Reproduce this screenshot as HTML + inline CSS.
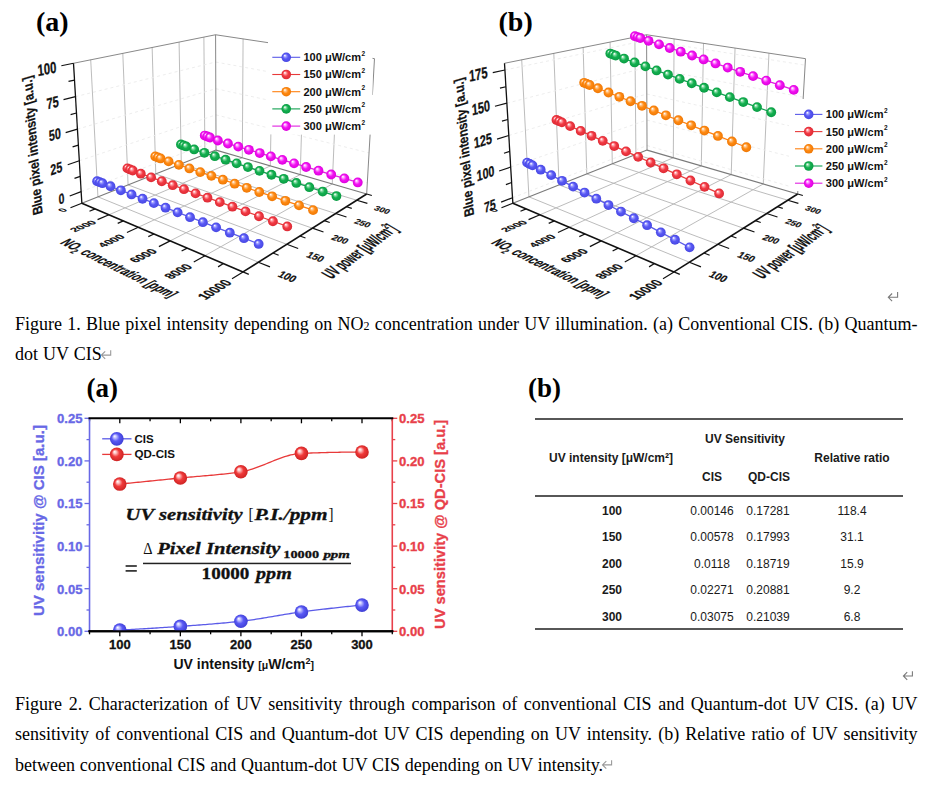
<!DOCTYPE html>
<html><head><meta charset="utf-8">
<style>
html,body{margin:0;padding:0;background:#fff;}
body{width:926px;height:786px;position:relative;overflow:hidden;font-family:"Liberation Sans",sans-serif;}
.ab{position:absolute;}
.cap{position:absolute;left:15px;width:902.5px;font-family:"Liberation Serif",serif;font-size:18px;color:#000;white-space:nowrap;line-height:20px;}
.just{text-align:justify;text-align-last:justify;white-space:normal;}
.lbl{position:absolute;font-family:"Liberation Serif",serif;font-weight:bold;font-size:27px;color:#000;line-height:30px;}
.ret{color:#a0a0a0;font-family:"Liberation Sans",sans-serif;font-size:13px;}
.tc{position:absolute;width:200px;text-align:center;font-family:"Liberation Sans",sans-serif;font-size:12px;line-height:14px;color:#1a1a1a;white-space:nowrap;}
.tb{font-weight:bold;letter-spacing:0px;}
.hl{position:absolute;left:535px;width:368px;height:2px;background:#575757;}
</style></head><body>
<div class="lbl" style="left:36px;top:6.5px;font-size:28px;">(a)</div>
<div class="lbl" style="left:498.5px;top:6.5px;font-size:28px;">(b)</div>

<div class="cap just" style="top:314px;">Figure 1. Blue pixel intensity depending on NO<span style="font-size:12px">2</span> concentration under UV illumination. (a) Conventional CIS. (b) Quantum-</div>
<div class="cap" style="top:344px;word-spacing:0.5px;">dot UV CIS</div>

<div class="lbl" style="left:86.5px;top:373px;font-size:27px;">(a)</div>
<div class="lbl" style="left:528px;top:373px;font-size:27px;">(b)</div>

<!-- table -->
<div class="hl" style="top:418px;"></div>
<div class="hl" style="top:495px;"></div>
<div class="hl" style="top:628px;"></div>
<div class="tc tb" style="left:511px;top:451px;">UV intensity [μW/cm²]</div>
<div class="tc tb" style="left:645px;top:432px;">UV Sensitivity</div>
<div class="tc tb" style="left:752px;top:451px;">Relative ratio</div>
<div class="tc tb" style="left:612px;top:470px;">CIS</div>
<div class="tc tb" style="left:669px;top:470px;">QD-CIS</div>

<div class="tc tb" style="left:512px;top:504px;">100</div>
<div class="tc tb" style="left:512px;top:530px;">150</div>
<div class="tc tb" style="left:512px;top:557px;">200</div>
<div class="tc tb" style="left:512px;top:583px;">250</div>
<div class="tc tb" style="left:512px;top:610px;">300</div>

<div class="tc" style="left:612px;top:504px;">0.00146</div>
<div class="tc" style="left:612px;top:530px;">0.00578</div>
<div class="tc" style="left:612px;top:557px;">0.0118</div>
<div class="tc" style="left:612px;top:583px;">0.02271</div>
<div class="tc" style="left:612px;top:610px;">0.03075</div>

<div class="tc" style="left:668px;top:504px;">0.17281</div>
<div class="tc" style="left:668px;top:530px;">0.17993</div>
<div class="tc" style="left:668px;top:557px;">0.18719</div>
<div class="tc" style="left:668px;top:583px;">0.20881</div>
<div class="tc" style="left:668px;top:610px;">0.21039</div>

<div class="tc" style="left:752px;top:504px;">118.4</div>
<div class="tc" style="left:752px;top:530px;">31.1</div>
<div class="tc" style="left:752px;top:557px;">15.9</div>
<div class="tc" style="left:752px;top:583px;">9.2</div>
<div class="tc" style="left:752px;top:610px;">6.8</div>

<div class="cap just" style="top:693.5px;">Figure 2. Characterization of UV sensitivity through comparison of conventional CIS and Quantum-dot UV CIS. (a) UV</div>
<div class="cap just" style="top:723.5px;">sensitivity of conventional CIS and Quantum-dot UV CIS depending on UV intensity. (b) Relative ratio of UV sensitivity</div>
<div class="cap" style="top:754.5px;word-spacing:0.25px;">between conventional CIS and Quantum-dot UV CIS depending on UV intensity.</div>
<svg class="ab" style="left:0;top:0" width="926" height="786"><path d="M897.6,291.9 V297.3 H888.8 M892.0999999999999,293.5 L888.3,297.3 L892.0999999999999,301.1" fill="none" stroke="#7a7a7a" stroke-width="1.1"/><path d="M110.7,350.2 V355.1 H101.9 M105.2,351.3 L101.4,355.1 L105.2,358.90000000000003" fill="none" stroke="#9a9a9a" stroke-width="1.1"/><path d="M912.4,671.2 V676 H903.9 M907.1999999999999,672.2 L903.4,676 L907.1999999999999,679.8" fill="none" stroke="#7a7a7a" stroke-width="1.1"/><path d="M611.6,760.2 V764.9 H603.0 M606.3,761.1 L602.5,764.9 L606.3,768.6999999999999" fill="none" stroke="#9a9a9a" stroke-width="1.1"/></svg>
<svg class="ab" style="left:0;top:0" width="0" height="0"><defs>
<radialGradient id="gb2" cx="0.5" cy="0.5" r="0.5" fx="0.34" fy="0.3"><stop offset="0" stop-color="#ffffff"/><stop offset="0.06" stop-color="#f4f4ff"/><stop offset="0.26" stop-color="#9a9aff"/><stop offset="0.55" stop-color="#5858f4"/><stop offset="1" stop-color="#4848e2"/></radialGradient>
<radialGradient id="gr2" cx="0.5" cy="0.5" r="0.5" fx="0.34" fy="0.3"><stop offset="0" stop-color="#ffffff"/><stop offset="0.06" stop-color="#fff4f4"/><stop offset="0.26" stop-color="#ff9aa0"/><stop offset="0.55" stop-color="#f23a44"/><stop offset="1" stop-color="#dc2a34"/></radialGradient>
<radialGradient id="go" cx="0.5" cy="0.5" r="0.5" fx="0.34" fy="0.3"><stop offset="0" stop-color="#ffffff"/><stop offset="0.06" stop-color="#fff8f0"/><stop offset="0.26" stop-color="#ffc080"/><stop offset="0.55" stop-color="#ff8a12"/><stop offset="1" stop-color="#ee7806"/></radialGradient>
<radialGradient id="gg" cx="0.5" cy="0.5" r="0.5" fx="0.34" fy="0.3"><stop offset="0" stop-color="#ffffff"/><stop offset="0.06" stop-color="#f0fff4"/><stop offset="0.26" stop-color="#80d8a0"/><stop offset="0.55" stop-color="#14b050"/><stop offset="1" stop-color="#0a9c44"/></radialGradient>
<radialGradient id="gm" cx="0.5" cy="0.5" r="0.5" fx="0.34" fy="0.3"><stop offset="0" stop-color="#ffffff"/><stop offset="0.06" stop-color="#fff0ff"/><stop offset="0.26" stop-color="#ff90ff"/><stop offset="0.55" stop-color="#f214f2"/><stop offset="1" stop-color="#dc00dc"/></radialGradient>
</defs></svg>

<svg class="ab" style="left:0;top:0" width="926" height="786" viewBox="0 0 926 786">
<line x1="97.93" y1="196.83" x2="258.39" y2="262.20" stroke="#b4b4b4" stroke-width="0.9" />
<line x1="128.08" y1="184.91" x2="286.80" y2="244.30" stroke="#b4b4b4" stroke-width="0.9" />
<line x1="155.77" y1="173.95" x2="312.42" y2="228.17" stroke="#b4b4b4" stroke-width="0.9" />
<line x1="181.29" y1="163.85" x2="335.64" y2="213.54" stroke="#b4b4b4" stroke-width="0.9" />
<line x1="204.90" y1="154.51" x2="356.79" y2="200.22" stroke="#b4b4b4" stroke-width="0.9" />
<line x1="108.95" y1="214.76" x2="242.30" y2="157.75" stroke="#b4b4b4" stroke-width="0.9" />
<line x1="138.31" y1="227.28" x2="270.30" y2="165.91" stroke="#b4b4b4" stroke-width="0.9" />
<line x1="170.20" y1="240.87" x2="300.22" y2="174.63" stroke="#b4b4b4" stroke-width="0.9" />
<line x1="204.96" y1="255.68" x2="332.26" y2="183.97" stroke="#b4b4b4" stroke-width="0.9" />
<line x1="97.93" y1="196.83" x2="90.71" y2="59.82" stroke="#b4b4b4" stroke-width="0.9" />
<line x1="128.08" y1="184.91" x2="122.80" y2="53.38" stroke="#b4b4b4" stroke-width="0.9" />
<line x1="155.77" y1="173.95" x2="152.15" y2="47.48" stroke="#b4b4b4" stroke-width="0.9" />
<line x1="181.29" y1="163.85" x2="179.08" y2="42.08" stroke="#b4b4b4" stroke-width="0.9" />
<line x1="204.90" y1="154.51" x2="203.89" y2="37.09" stroke="#b4b4b4" stroke-width="0.9" />
<line x1="242.30" y1="157.75" x2="243.09" y2="38.89" stroke="#b4b4b4" stroke-width="0.9" />
<line x1="270.30" y1="165.91" x2="272.51" y2="43.31" stroke="#b4b4b4" stroke-width="0.9" />
<line x1="300.22" y1="174.63" x2="304.05" y2="48.06" stroke="#b4b4b4" stroke-width="0.9" />
<line x1="332.26" y1="183.97" x2="337.95" y2="53.17" stroke="#b4b4b4" stroke-width="0.9" />
<line x1="81.15" y1="191.67" x2="216.01" y2="140.50" stroke="#ebebeb" stroke-width="0.9" stroke-dasharray="3,3"/>
<line x1="216.01" y1="140.50" x2="367.31" y2="182.83" stroke="#ebebeb" stroke-width="0.9" stroke-dasharray="3,3"/>
<line x1="79.31" y1="160.79" x2="215.90" y2="114.88" stroke="#ebebeb" stroke-width="0.9" stroke-dasharray="3,3"/>
<line x1="215.90" y1="114.88" x2="369.04" y2="152.92" stroke="#ebebeb" stroke-width="0.9" stroke-dasharray="3,3"/>
<line x1="77.43" y1="129.12" x2="215.80" y2="88.73" stroke="#ebebeb" stroke-width="0.9" stroke-dasharray="3,3"/>
<line x1="215.80" y1="88.73" x2="370.81" y2="122.28" stroke="#ebebeb" stroke-width="0.9" stroke-dasharray="3,3"/>
<line x1="75.50" y1="96.63" x2="215.69" y2="62.02" stroke="#ebebeb" stroke-width="0.9" stroke-dasharray="3,3"/>
<line x1="215.69" y1="62.02" x2="372.63" y2="90.87" stroke="#ebebeb" stroke-width="0.9" stroke-dasharray="3,3"/>
<line x1="216.04" y1="150.10" x2="215.58" y2="34.75" stroke="#7a7a7a" stroke-width="0.9" />
<line x1="366.66" y1="194.00" x2="374.49" y2="58.67" stroke="#7a7a7a" stroke-width="0.9" />
<line x1="73.51" y1="63.27" x2="215.58" y2="34.75" stroke="#7a7a7a" stroke-width="0.9" />
<line x1="215.58" y1="34.75" x2="374.49" y2="58.67" stroke="#7a7a7a" stroke-width="0.9" />
<line x1="81.84" y1="203.20" x2="216.04" y2="150.10" stroke="#7a7a7a" stroke-width="1.1" />
<line x1="216.04" y1="150.10" x2="366.66" y2="194.00" stroke="#7a7a7a" stroke-width="1.1" />
<line x1="81.84" y1="203.20" x2="73.51" y2="63.27" stroke="#111" stroke-width="1.3" />
<line x1="81.84" y1="203.20" x2="242.99" y2="271.90" stroke="#111" stroke-width="1.6" />
<line x1="242.99" y1="271.90" x2="366.66" y2="194.00" stroke="#111" stroke-width="1.6" />
<line x1="81.15" y1="191.67" x2="69.72" y2="196.01" stroke="#111" stroke-width="1.2" />
<line x1="80.24" y1="176.33" x2="74.52" y2="178.37" stroke="#111" stroke-width="1.2" />
<line x1="79.31" y1="160.79" x2="67.70" y2="164.70" stroke="#111" stroke-width="1.2" />
<line x1="78.38" y1="145.06" x2="72.57" y2="146.88" stroke="#111" stroke-width="1.2" />
<line x1="77.43" y1="129.12" x2="65.64" y2="132.56" stroke="#111" stroke-width="1.2" />
<line x1="76.47" y1="112.98" x2="70.57" y2="114.57" stroke="#111" stroke-width="1.2" />
<line x1="75.50" y1="96.63" x2="63.52" y2="99.58" stroke="#111" stroke-width="1.2" />
<line x1="74.51" y1="80.06" x2="68.52" y2="81.40" stroke="#111" stroke-width="1.2" />
<line x1="73.51" y1="63.27" x2="61.34" y2="65.72" stroke="#111" stroke-width="1.2" />
<line x1="81.84" y1="203.20" x2="70.47" y2="207.70" stroke="#111" stroke-width="1.2" />
<line x1="95.13" y1="208.87" x2="89.49" y2="211.19" stroke="#111" stroke-width="1.2" />
<line x1="108.95" y1="214.76" x2="97.57" y2="219.63" stroke="#111" stroke-width="1.2" />
<line x1="123.34" y1="220.89" x2="117.69" y2="223.41" stroke="#111" stroke-width="1.2" />
<line x1="138.31" y1="227.28" x2="126.95" y2="232.56" stroke="#111" stroke-width="1.2" />
<line x1="153.92" y1="233.93" x2="148.30" y2="236.66" stroke="#111" stroke-width="1.2" />
<line x1="170.20" y1="240.87" x2="158.90" y2="246.62" stroke="#111" stroke-width="1.2" />
<line x1="187.19" y1="248.11" x2="181.62" y2="251.09" stroke="#111" stroke-width="1.2" />
<line x1="204.96" y1="255.68" x2="193.78" y2="261.98" stroke="#111" stroke-width="1.2" />
<line x1="223.53" y1="263.60" x2="218.04" y2="266.87" stroke="#111" stroke-width="1.2" />
<line x1="242.99" y1="271.90" x2="232.02" y2="278.81" stroke="#111" stroke-width="1.2" />
<line x1="242.99" y1="271.90" x2="248.80" y2="274.38" stroke="#111" stroke-width="1.2" />
<line x1="258.39" y1="262.20" x2="269.98" y2="266.92" stroke="#111" stroke-width="1.2" />
<line x1="272.97" y1="253.01" x2="278.67" y2="255.24" stroke="#111" stroke-width="1.2" />
<line x1="286.80" y1="244.30" x2="298.15" y2="248.55" stroke="#111" stroke-width="1.2" />
<line x1="299.93" y1="236.03" x2="305.51" y2="238.04" stroke="#111" stroke-width="1.2" />
<line x1="312.42" y1="228.17" x2="323.51" y2="232.01" stroke="#111" stroke-width="1.2" />
<line x1="324.31" y1="220.68" x2="329.76" y2="222.50" stroke="#111" stroke-width="1.2" />
<line x1="335.64" y1="213.54" x2="346.48" y2="217.03" stroke="#111" stroke-width="1.2" />
<line x1="346.45" y1="206.73" x2="351.78" y2="208.38" stroke="#111" stroke-width="1.2" />
<line x1="356.79" y1="200.22" x2="367.37" y2="203.41" stroke="#111" stroke-width="1.2" />
<line x1="366.66" y1="194.00" x2="371.86" y2="195.51" stroke="#111" stroke-width="1.2" />
<text transform="matrix(1.0588,-0.2127,0.1069,1.5264,46.90,68.70)" text-anchor="middle" dy="0.36em" font-family="Liberation Sans" font-weight="bold" font-size="10.5" fill="#111" stroke="#111" stroke-width="0.2">100</text>
<text transform="matrix(1.0320,-0.2548,0.1016,1.4794,52.70,102.30)" text-anchor="middle" dy="0.36em" font-family="Liberation Sans" font-weight="bold" font-size="10.5" fill="#111" stroke="#111" stroke-width="0.2">75</text>
<text transform="matrix(1.0162,-0.2948,0.0991,1.4423,54.80,134.30)" text-anchor="middle" dy="0.36em" font-family="Liberation Sans" font-weight="bold" font-size="10.5" fill="#111" stroke="#111" stroke-width="0.2">50</text>
<text transform="matrix(1.0016,-0.3361,0.0970,1.4051,56.30,168.10)" text-anchor="middle" dy="0.36em" font-family="Liberation Sans" font-weight="bold" font-size="10.5" fill="#111" stroke="#111" stroke-width="0.2">25</text>
<text transform="matrix(0.9780,-0.3704,0.0924,1.3643,61.50,198.60)" text-anchor="middle" dy="0.36em" font-family="Liberation Sans" font-weight="bold" font-size="10.5" fill="#111" stroke="#111" stroke-width="0.2">0</text>
<text transform="matrix(0.9301,-0.3672,0.7903,0.3550,62.50,210.20)" text-anchor="middle" dy="0.36em" font-family="Liberation Sans" font-weight="bold" font-size="10.5" fill="#111" stroke="#111" stroke-width="0.2">0</text>
<text transform="matrix(0.9530,-0.4077,0.8580,0.3939,82.90,226.10)" text-anchor="middle" dy="0.36em" font-family="Liberation Sans" font-weight="bold" font-size="10.5" fill="#111" stroke="#111" stroke-width="0.2">2000</text>
<text transform="matrix(0.9587,-0.4470,0.9353,0.4316,111.20,240.80)" text-anchor="middle" dy="0.36em" font-family="Liberation Sans" font-weight="bold" font-size="10.5" fill="#111" stroke="#111" stroke-width="0.2">4000</text>
<text transform="matrix(0.9561,-0.4883,1.0209,0.4712,143.00,255.60)" text-anchor="middle" dy="0.36em" font-family="Liberation Sans" font-weight="bold" font-size="10.5" fill="#111" stroke="#111" stroke-width="0.2">6000</text>
<text transform="matrix(0.9473,-0.5345,1.1181,0.5155,178.10,271.40)" text-anchor="middle" dy="0.36em" font-family="Liberation Sans" font-weight="bold" font-size="10.5" fill="#111" stroke="#111" stroke-width="0.2">8000</text>
<text transform="matrix(0.9380,-0.5903,1.2293,0.5690,214.40,289.60)" text-anchor="middle" dy="0.36em" font-family="Liberation Sans" font-weight="bold" font-size="10.5" fill="#111" stroke="#111" stroke-width="0.2">10000</text>
<text transform="matrix(0.9067,0.3718,-0.6944,0.7938,287.50,276.40)" text-anchor="middle" dy="0.36em" font-family="Liberation Sans" font-weight="bold" font-size="10.5" fill="#111" stroke="#111" stroke-width="0.2">100</text>
<text transform="matrix(0.8846,0.3327,-0.6253,0.7288,315.60,256.80)" text-anchor="middle" dy="0.36em" font-family="Liberation Sans" font-weight="bold" font-size="10.5" fill="#111" stroke="#111" stroke-width="0.2">150</text>
<text transform="matrix(0.8614,0.2994,-0.5670,0.6725,340.20,239.20)" text-anchor="middle" dy="0.36em" font-family="Liberation Sans" font-weight="bold" font-size="10.5" fill="#111" stroke="#111" stroke-width="0.2">200</text>
<text transform="matrix(0.8381,0.2705,-0.5161,0.6229,362.70,223.10)" text-anchor="middle" dy="0.36em" font-family="Liberation Sans" font-weight="bold" font-size="10.5" fill="#111" stroke="#111" stroke-width="0.2">250</text>
<text transform="matrix(0.8179,0.2476,-0.4748,0.5828,382.30,209.70)" text-anchor="middle" dy="0.36em" font-family="Liberation Sans" font-weight="bold" font-size="10.5" fill="#111" stroke="#111" stroke-width="0.2">300</text>
<text transform="matrix(-0.0833,-1.0668,1.2264,-0.3634,32.30,145.70)" text-anchor="middle" dy="0.36em" font-family="Liberation Sans" font-weight="bold" font-size="11" fill="#111" stroke="#111" stroke-width="0.2">Blue pixel intensity [a.u.]</text>
<text transform="matrix(0.8518,0.4206,-1.2901,0.6597,119.60,268.00)" text-anchor="middle" dy="0.36em" font-family="Liberation Sans" font-weight="bold" font-size="11" fill="#111" stroke="#111" stroke-width="0.2">NO<tspan font-size="7" dy="3">2</tspan><tspan dy="-3"> concentration [ppm]</tspan></text>
<text transform="matrix(0.6090,-0.4546,1.3332,0.7809,359.10,251.20)" text-anchor="middle" dy="0.36em" font-family="Liberation Sans" font-weight="bold" font-size="12" fill="#111" stroke="#111" stroke-width="0.2">UV power [μW/cm<tspan font-size="7" dy="-5">2</tspan><tspan dy="5">]</tspan></text>
<path d="M204.73,135.53 L207.32,136.51 L209.92,137.49 L217.83,140.48 L227.92,143.51 L238.26,146.61 L248.86,149.79 L259.73,153.06 L270.88,156.40 L282.32,159.84 L294.06,163.36 L306.12,166.98 L318.50,170.69 L331.22,174.51 L344.30,178.44 L357.74,182.47" fill="none" stroke="#e020e0" stroke-width="1.3"/>
<circle cx="204.73" cy="135.53" r="4.9" fill="url(#gm)"/>
<circle cx="207.32" cy="136.51" r="4.9" fill="url(#gm)"/>
<circle cx="209.92" cy="137.49" r="4.9" fill="url(#gm)"/>
<circle cx="217.83" cy="140.48" r="4.9" fill="url(#gm)"/>
<circle cx="227.92" cy="143.51" r="4.9" fill="url(#gm)"/>
<circle cx="238.26" cy="146.61" r="4.9" fill="url(#gm)"/>
<circle cx="248.86" cy="149.79" r="4.9" fill="url(#gm)"/>
<circle cx="259.73" cy="153.06" r="4.9" fill="url(#gm)"/>
<circle cx="270.88" cy="156.40" r="4.9" fill="url(#gm)"/>
<circle cx="282.32" cy="159.84" r="4.9" fill="url(#gm)"/>
<circle cx="294.06" cy="163.36" r="4.9" fill="url(#gm)"/>
<circle cx="306.12" cy="166.98" r="4.9" fill="url(#gm)"/>
<circle cx="318.50" cy="170.69" r="4.9" fill="url(#gm)"/>
<circle cx="331.22" cy="174.51" r="4.9" fill="url(#gm)"/>
<circle cx="344.30" cy="178.44" r="4.9" fill="url(#gm)"/>
<circle cx="357.74" cy="182.47" r="4.9" fill="url(#gm)"/>
<path d="M180.94,144.52 L183.55,145.49 L186.18,146.47 L194.16,149.43 L204.36,152.78 L214.83,156.21 L225.56,159.72 L236.58,163.34 L247.90,167.04 L259.52,170.85 L271.46,174.77 L283.73,178.79 L296.35,182.92 L309.33,187.18 L322.68,191.56 L336.43,196.06" fill="none" stroke="#10a050" stroke-width="1.3"/>
<circle cx="180.94" cy="144.52" r="4.9" fill="url(#gg)"/>
<circle cx="183.55" cy="145.49" r="4.9" fill="url(#gg)"/>
<circle cx="186.18" cy="146.47" r="4.9" fill="url(#gg)"/>
<circle cx="194.16" cy="149.43" r="4.9" fill="url(#gg)"/>
<circle cx="204.36" cy="152.78" r="4.9" fill="url(#gg)"/>
<circle cx="214.83" cy="156.21" r="4.9" fill="url(#gg)"/>
<circle cx="225.56" cy="159.72" r="4.9" fill="url(#gg)"/>
<circle cx="236.58" cy="163.34" r="4.9" fill="url(#gg)"/>
<circle cx="247.90" cy="167.04" r="4.9" fill="url(#gg)"/>
<circle cx="259.52" cy="170.85" r="4.9" fill="url(#gg)"/>
<circle cx="271.46" cy="174.77" r="4.9" fill="url(#gg)"/>
<circle cx="283.73" cy="178.79" r="4.9" fill="url(#gg)"/>
<circle cx="296.35" cy="182.92" r="4.9" fill="url(#gg)"/>
<circle cx="309.33" cy="187.18" r="4.9" fill="url(#gg)"/>
<circle cx="322.68" cy="191.56" r="4.9" fill="url(#gg)"/>
<circle cx="336.43" cy="196.06" r="4.9" fill="url(#gg)"/>
<path d="M155.27,156.47 L157.89,157.44 L160.54,158.42 L168.58,161.39 L178.86,164.86 L189.42,168.43 L200.26,172.09 L211.41,175.85 L222.87,179.71 L234.65,183.69 L246.78,187.78 L259.26,191.99 L272.11,196.33 L285.35,200.80 L299.00,205.40 L313.07,210.15" fill="none" stroke="#ff8010" stroke-width="1.3"/>
<circle cx="155.27" cy="156.47" r="4.9" fill="url(#go)"/>
<circle cx="157.89" cy="157.44" r="4.9" fill="url(#go)"/>
<circle cx="160.54" cy="158.42" r="4.9" fill="url(#go)"/>
<circle cx="168.58" cy="161.39" r="4.9" fill="url(#go)"/>
<circle cx="178.86" cy="164.86" r="4.9" fill="url(#go)"/>
<circle cx="189.42" cy="168.43" r="4.9" fill="url(#go)"/>
<circle cx="200.26" cy="172.09" r="4.9" fill="url(#go)"/>
<circle cx="211.41" cy="175.85" r="4.9" fill="url(#go)"/>
<circle cx="222.87" cy="179.71" r="4.9" fill="url(#go)"/>
<circle cx="234.65" cy="183.69" r="4.9" fill="url(#go)"/>
<circle cx="246.78" cy="187.78" r="4.9" fill="url(#go)"/>
<circle cx="259.26" cy="191.99" r="4.9" fill="url(#go)"/>
<circle cx="272.11" cy="196.33" r="4.9" fill="url(#go)"/>
<circle cx="285.35" cy="200.80" r="4.9" fill="url(#go)"/>
<circle cx="299.00" cy="205.40" r="4.9" fill="url(#go)"/>
<circle cx="313.07" cy="210.15" r="4.9" fill="url(#go)"/>
<path d="M127.41,168.38 L130.05,169.43 L132.71,170.48 L140.79,173.67 L151.13,177.40 L161.76,181.23 L172.70,185.17 L183.95,189.22 L195.54,193.39 L207.46,197.69 L219.76,202.12 L232.42,206.68 L245.49,211.39 L258.97,216.25 L272.88,221.26 L287.25,226.44" fill="none" stroke="#e83a3a" stroke-width="1.3"/>
<circle cx="127.41" cy="168.38" r="4.9" fill="url(#gr2)"/>
<circle cx="130.05" cy="169.43" r="4.9" fill="url(#gr2)"/>
<circle cx="132.71" cy="170.48" r="4.9" fill="url(#gr2)"/>
<circle cx="140.79" cy="173.67" r="4.9" fill="url(#gr2)"/>
<circle cx="151.13" cy="177.40" r="4.9" fill="url(#gr2)"/>
<circle cx="161.76" cy="181.23" r="4.9" fill="url(#gr2)"/>
<circle cx="172.70" cy="185.17" r="4.9" fill="url(#gr2)"/>
<circle cx="183.95" cy="189.22" r="4.9" fill="url(#gr2)"/>
<circle cx="195.54" cy="193.39" r="4.9" fill="url(#gr2)"/>
<circle cx="207.46" cy="197.69" r="4.9" fill="url(#gr2)"/>
<circle cx="219.76" cy="202.12" r="4.9" fill="url(#gr2)"/>
<circle cx="232.42" cy="206.68" r="4.9" fill="url(#gr2)"/>
<circle cx="245.49" cy="211.39" r="4.9" fill="url(#gr2)"/>
<circle cx="258.97" cy="216.25" r="4.9" fill="url(#gr2)"/>
<circle cx="272.88" cy="221.26" r="4.9" fill="url(#gr2)"/>
<circle cx="287.25" cy="226.44" r="4.9" fill="url(#gr2)"/>
<path d="M97.11,181.22 L99.74,182.21 L102.40,183.21 L110.48,186.25 L120.85,190.29 L131.53,194.45 L142.53,198.73 L153.86,203.14 L165.54,207.68 L177.59,212.37 L190.02,217.21 L202.86,222.21 L216.11,227.37 L229.81,232.70 L243.98,238.22 L258.64,243.92" fill="none" stroke="#5a5ae8" stroke-width="1.3"/>
<circle cx="97.11" cy="181.22" r="4.9" fill="url(#gb2)"/>
<circle cx="99.74" cy="182.21" r="4.9" fill="url(#gb2)"/>
<circle cx="102.40" cy="183.21" r="4.9" fill="url(#gb2)"/>
<circle cx="110.48" cy="186.25" r="4.9" fill="url(#gb2)"/>
<circle cx="120.85" cy="190.29" r="4.9" fill="url(#gb2)"/>
<circle cx="131.53" cy="194.45" r="4.9" fill="url(#gb2)"/>
<circle cx="142.53" cy="198.73" r="4.9" fill="url(#gb2)"/>
<circle cx="153.86" cy="203.14" r="4.9" fill="url(#gb2)"/>
<circle cx="165.54" cy="207.68" r="4.9" fill="url(#gb2)"/>
<circle cx="177.59" cy="212.37" r="4.9" fill="url(#gb2)"/>
<circle cx="190.02" cy="217.21" r="4.9" fill="url(#gb2)"/>
<circle cx="202.86" cy="222.21" r="4.9" fill="url(#gb2)"/>
<circle cx="216.11" cy="227.37" r="4.9" fill="url(#gb2)"/>
<circle cx="229.81" cy="232.70" r="4.9" fill="url(#gb2)"/>
<circle cx="243.98" cy="238.22" r="4.9" fill="url(#gb2)"/>
<circle cx="258.64" cy="243.92" r="4.9" fill="url(#gb2)"/>
<rect x="268" y="41" width="104.5" height="93.4" fill="#fff"/>
<rect x="300" y="95" width="74.5" height="39.4" fill="#fff"/>
<line x1="272.3" y1="57.30" x2="300.2" y2="57.30" stroke="#5a5ae8" stroke-width="1.1"/>
<circle cx="286.25" cy="57.30" r="4.8" fill="url(#gb2)"/>
<text x="303.4" y="61.20" font-family="Liberation Sans" font-weight="bold" font-size="10.5" fill="#111" textLength="57.7" lengthAdjust="spacingAndGlyphs">100 μW/cm</text>
<text x="361.50" y="55.80" font-family="Liberation Sans" font-weight="bold" font-size="6.5" fill="#111">2</text>
<line x1="272.3" y1="74.50" x2="300.2" y2="74.50" stroke="#e83a3a" stroke-width="1.1"/>
<circle cx="286.25" cy="74.50" r="4.8" fill="url(#gr2)"/>
<text x="303.4" y="78.40" font-family="Liberation Sans" font-weight="bold" font-size="10.5" fill="#111" textLength="57.7" lengthAdjust="spacingAndGlyphs">150 μW/cm</text>
<text x="361.50" y="73.00" font-family="Liberation Sans" font-weight="bold" font-size="6.5" fill="#111">2</text>
<line x1="272.3" y1="91.70" x2="300.2" y2="91.70" stroke="#ff8010" stroke-width="1.1"/>
<circle cx="286.25" cy="91.70" r="4.8" fill="url(#go)"/>
<text x="303.4" y="95.60" font-family="Liberation Sans" font-weight="bold" font-size="10.5" fill="#111" textLength="57.7" lengthAdjust="spacingAndGlyphs">200 μW/cm</text>
<text x="361.50" y="90.20" font-family="Liberation Sans" font-weight="bold" font-size="6.5" fill="#111">2</text>
<line x1="272.3" y1="108.90" x2="300.2" y2="108.90" stroke="#10a050" stroke-width="1.1"/>
<circle cx="286.25" cy="108.90" r="4.8" fill="url(#gg)"/>
<text x="303.4" y="112.80" font-family="Liberation Sans" font-weight="bold" font-size="10.5" fill="#111" textLength="57.7" lengthAdjust="spacingAndGlyphs">250 μW/cm</text>
<text x="361.50" y="107.40" font-family="Liberation Sans" font-weight="bold" font-size="6.5" fill="#111">2</text>
<line x1="272.3" y1="126.10" x2="300.2" y2="126.10" stroke="#e020e0" stroke-width="1.1"/>
<circle cx="286.25" cy="126.10" r="4.8" fill="url(#gm)"/>
<text x="303.4" y="130.00" font-family="Liberation Sans" font-weight="bold" font-size="10.5" fill="#111" textLength="57.7" lengthAdjust="spacingAndGlyphs">300 μW/cm</text>
<text x="361.50" y="124.60" font-family="Liberation Sans" font-weight="bold" font-size="6.5" fill="#111">2</text>
</svg>
<svg class="ab" style="left:0;top:0" width="926" height="786" viewBox="0 0 926 786">
<line x1="528.93" y1="196.83" x2="689.39" y2="262.20" stroke="#b4b4b4" stroke-width="0.9" />
<line x1="559.08" y1="184.91" x2="717.80" y2="244.30" stroke="#b4b4b4" stroke-width="0.9" />
<line x1="586.77" y1="173.95" x2="743.42" y2="228.17" stroke="#b4b4b4" stroke-width="0.9" />
<line x1="612.29" y1="163.85" x2="766.64" y2="213.54" stroke="#b4b4b4" stroke-width="0.9" />
<line x1="635.90" y1="154.51" x2="787.79" y2="200.22" stroke="#b4b4b4" stroke-width="0.9" />
<line x1="539.95" y1="214.76" x2="673.30" y2="157.75" stroke="#b4b4b4" stroke-width="0.9" />
<line x1="569.31" y1="227.28" x2="701.30" y2="165.91" stroke="#b4b4b4" stroke-width="0.9" />
<line x1="601.20" y1="240.87" x2="731.22" y2="174.63" stroke="#b4b4b4" stroke-width="0.9" />
<line x1="635.96" y1="255.68" x2="763.26" y2="183.97" stroke="#b4b4b4" stroke-width="0.9" />
<line x1="528.93" y1="196.83" x2="521.71" y2="59.82" stroke="#b4b4b4" stroke-width="0.9" />
<line x1="559.08" y1="184.91" x2="553.80" y2="53.38" stroke="#b4b4b4" stroke-width="0.9" />
<line x1="586.77" y1="173.95" x2="583.15" y2="47.48" stroke="#b4b4b4" stroke-width="0.9" />
<line x1="612.29" y1="163.85" x2="610.08" y2="42.08" stroke="#b4b4b4" stroke-width="0.9" />
<line x1="635.90" y1="154.51" x2="634.89" y2="37.09" stroke="#b4b4b4" stroke-width="0.9" />
<line x1="673.30" y1="157.75" x2="674.09" y2="38.89" stroke="#b4b4b4" stroke-width="0.9" />
<line x1="701.30" y1="165.91" x2="703.51" y2="43.31" stroke="#b4b4b4" stroke-width="0.9" />
<line x1="731.22" y1="174.63" x2="735.05" y2="48.06" stroke="#b4b4b4" stroke-width="0.9" />
<line x1="763.26" y1="183.97" x2="768.95" y2="53.17" stroke="#b4b4b4" stroke-width="0.9" />
<line x1="512.51" y1="197.75" x2="647.03" y2="145.56" stroke="#ebebeb" stroke-width="0.9" stroke-dasharray="3,3"/>
<line x1="647.03" y1="145.56" x2="797.97" y2="188.72" stroke="#ebebeb" stroke-width="0.9" stroke-dasharray="3,3"/>
<line x1="510.68" y1="167.03" x2="646.92" y2="120.05" stroke="#ebebeb" stroke-width="0.9" stroke-dasharray="3,3"/>
<line x1="646.92" y1="120.05" x2="799.69" y2="158.96" stroke="#ebebeb" stroke-width="0.9" stroke-dasharray="3,3"/>
<line x1="508.81" y1="135.52" x2="646.82" y2="94.00" stroke="#ebebeb" stroke-width="0.9" stroke-dasharray="3,3"/>
<line x1="646.82" y1="94.00" x2="801.45" y2="128.47" stroke="#ebebeb" stroke-width="0.9" stroke-dasharray="3,3"/>
<line x1="506.89" y1="103.19" x2="646.71" y2="67.41" stroke="#ebebeb" stroke-width="0.9" stroke-dasharray="3,3"/>
<line x1="646.71" y1="67.41" x2="803.26" y2="97.22" stroke="#ebebeb" stroke-width="0.9" stroke-dasharray="3,3"/>
<line x1="504.91" y1="70.02" x2="646.60" y2="40.25" stroke="#ebebeb" stroke-width="0.9" stroke-dasharray="3,3"/>
<line x1="646.60" y1="40.25" x2="805.11" y2="65.17" stroke="#ebebeb" stroke-width="0.9" stroke-dasharray="3,3"/>
<line x1="647.04" y1="150.10" x2="646.58" y2="34.75" stroke="#7a7a7a" stroke-width="0.9" />
<line x1="797.66" y1="194.00" x2="805.49" y2="58.67" stroke="#7a7a7a" stroke-width="0.9" />
<line x1="504.51" y1="63.27" x2="646.58" y2="34.75" stroke="#7a7a7a" stroke-width="0.9" />
<line x1="646.58" y1="34.75" x2="805.49" y2="58.67" stroke="#7a7a7a" stroke-width="0.9" />
<line x1="512.84" y1="203.20" x2="647.04" y2="150.10" stroke="#7a7a7a" stroke-width="1.1" />
<line x1="647.04" y1="150.10" x2="797.66" y2="194.00" stroke="#7a7a7a" stroke-width="1.1" />
<line x1="512.84" y1="203.20" x2="504.51" y2="63.27" stroke="#111" stroke-width="1.3" />
<line x1="512.84" y1="203.20" x2="673.99" y2="271.90" stroke="#111" stroke-width="1.6" />
<line x1="673.99" y1="271.90" x2="797.66" y2="194.00" stroke="#111" stroke-width="1.6" />
<line x1="512.51" y1="197.75" x2="501.11" y2="202.18" stroke="#111" stroke-width="1.2" />
<line x1="511.60" y1="182.49" x2="505.91" y2="184.58" stroke="#111" stroke-width="1.2" />
<line x1="510.68" y1="167.03" x2="499.11" y2="171.02" stroke="#111" stroke-width="1.2" />
<line x1="509.75" y1="151.38" x2="503.97" y2="153.25" stroke="#111" stroke-width="1.2" />
<line x1="508.81" y1="135.52" x2="497.05" y2="139.06" stroke="#111" stroke-width="1.2" />
<line x1="507.86" y1="119.46" x2="501.98" y2="121.10" stroke="#111" stroke-width="1.2" />
<line x1="506.89" y1="103.19" x2="494.95" y2="106.25" stroke="#111" stroke-width="1.2" />
<line x1="505.91" y1="86.71" x2="499.94" y2="88.10" stroke="#111" stroke-width="1.2" />
<line x1="504.91" y1="70.02" x2="492.78" y2="72.56" stroke="#111" stroke-width="1.2" />
<line x1="512.84" y1="203.20" x2="501.47" y2="207.70" stroke="#111" stroke-width="1.2" />
<line x1="526.13" y1="208.87" x2="520.49" y2="211.19" stroke="#111" stroke-width="1.2" />
<line x1="539.95" y1="214.76" x2="528.57" y2="219.63" stroke="#111" stroke-width="1.2" />
<line x1="554.34" y1="220.89" x2="548.69" y2="223.41" stroke="#111" stroke-width="1.2" />
<line x1="569.31" y1="227.28" x2="557.95" y2="232.56" stroke="#111" stroke-width="1.2" />
<line x1="584.92" y1="233.93" x2="579.30" y2="236.66" stroke="#111" stroke-width="1.2" />
<line x1="601.20" y1="240.87" x2="589.90" y2="246.62" stroke="#111" stroke-width="1.2" />
<line x1="618.19" y1="248.11" x2="612.62" y2="251.09" stroke="#111" stroke-width="1.2" />
<line x1="635.96" y1="255.68" x2="624.78" y2="261.98" stroke="#111" stroke-width="1.2" />
<line x1="654.53" y1="263.60" x2="649.04" y2="266.87" stroke="#111" stroke-width="1.2" />
<line x1="673.99" y1="271.90" x2="663.02" y2="278.81" stroke="#111" stroke-width="1.2" />
<line x1="673.99" y1="271.90" x2="679.80" y2="274.38" stroke="#111" stroke-width="1.2" />
<line x1="689.39" y1="262.20" x2="700.98" y2="266.92" stroke="#111" stroke-width="1.2" />
<line x1="703.97" y1="253.01" x2="709.67" y2="255.24" stroke="#111" stroke-width="1.2" />
<line x1="717.80" y1="244.30" x2="729.15" y2="248.55" stroke="#111" stroke-width="1.2" />
<line x1="730.93" y1="236.03" x2="736.51" y2="238.04" stroke="#111" stroke-width="1.2" />
<line x1="743.42" y1="228.17" x2="754.51" y2="232.01" stroke="#111" stroke-width="1.2" />
<line x1="755.31" y1="220.68" x2="760.76" y2="222.50" stroke="#111" stroke-width="1.2" />
<line x1="766.64" y1="213.54" x2="777.48" y2="217.03" stroke="#111" stroke-width="1.2" />
<line x1="777.45" y1="206.73" x2="782.78" y2="208.38" stroke="#111" stroke-width="1.2" />
<line x1="787.79" y1="200.22" x2="798.37" y2="203.41" stroke="#111" stroke-width="1.2" />
<line x1="797.66" y1="194.00" x2="802.86" y2="195.51" stroke="#111" stroke-width="1.2" />
<text transform="matrix(1.0574,-0.2199,0.1065,1.5219,478.30,74.00)" text-anchor="middle" dy="0.36em" font-family="Liberation Sans" font-weight="bold" font-size="10.5" fill="#111" stroke="#111" stroke-width="0.2">175</text>
<text transform="matrix(1.0396,-0.2629,0.1036,1.4817,480.90,107.50)" text-anchor="middle" dy="0.36em" font-family="Liberation Sans" font-weight="bold" font-size="10.5" fill="#111" stroke="#111" stroke-width="0.2">150</text>
<text transform="matrix(1.0237,-0.3040,0.1011,1.4438,482.90,140.40)" text-anchor="middle" dy="0.36em" font-family="Liberation Sans" font-weight="bold" font-size="10.5" fill="#111" stroke="#111" stroke-width="0.2">125</text>
<text transform="matrix(1.0063,-0.3438,0.0982,1.4053,485.50,173.30)" text-anchor="middle" dy="0.36em" font-family="Liberation Sans" font-weight="bold" font-size="10.5" fill="#111" stroke="#111" stroke-width="0.2">100</text>
<text transform="matrix(0.9839,-0.3807,0.0941,1.3640,490.00,205.70)" text-anchor="middle" dy="0.36em" font-family="Liberation Sans" font-weight="bold" font-size="10.5" fill="#111" stroke="#111" stroke-width="0.2">75</text>
<text transform="matrix(0.9301,-0.3672,0.7903,0.3550,493.50,210.20)" text-anchor="middle" dy="0.36em" font-family="Liberation Sans" font-weight="bold" font-size="10.5" fill="#111" stroke="#111" stroke-width="0.2">0</text>
<text transform="matrix(0.9530,-0.4077,0.8580,0.3939,513.90,226.10)" text-anchor="middle" dy="0.36em" font-family="Liberation Sans" font-weight="bold" font-size="10.5" fill="#111" stroke="#111" stroke-width="0.2">2000</text>
<text transform="matrix(0.9587,-0.4470,0.9353,0.4316,542.20,240.80)" text-anchor="middle" dy="0.36em" font-family="Liberation Sans" font-weight="bold" font-size="10.5" fill="#111" stroke="#111" stroke-width="0.2">4000</text>
<text transform="matrix(0.9561,-0.4883,1.0209,0.4712,574.00,255.60)" text-anchor="middle" dy="0.36em" font-family="Liberation Sans" font-weight="bold" font-size="10.5" fill="#111" stroke="#111" stroke-width="0.2">6000</text>
<text transform="matrix(0.9473,-0.5345,1.1181,0.5155,609.10,271.40)" text-anchor="middle" dy="0.36em" font-family="Liberation Sans" font-weight="bold" font-size="10.5" fill="#111" stroke="#111" stroke-width="0.2">8000</text>
<text transform="matrix(0.9380,-0.5903,1.2293,0.5690,645.40,289.60)" text-anchor="middle" dy="0.36em" font-family="Liberation Sans" font-weight="bold" font-size="10.5" fill="#111" stroke="#111" stroke-width="0.2">10000</text>
<text transform="matrix(0.9067,0.3718,-0.6944,0.7938,718.50,276.40)" text-anchor="middle" dy="0.36em" font-family="Liberation Sans" font-weight="bold" font-size="10.5" fill="#111" stroke="#111" stroke-width="0.2">100</text>
<text transform="matrix(0.8846,0.3327,-0.6253,0.7288,746.60,256.80)" text-anchor="middle" dy="0.36em" font-family="Liberation Sans" font-weight="bold" font-size="10.5" fill="#111" stroke="#111" stroke-width="0.2">150</text>
<text transform="matrix(0.8614,0.2994,-0.5670,0.6725,771.20,239.20)" text-anchor="middle" dy="0.36em" font-family="Liberation Sans" font-weight="bold" font-size="10.5" fill="#111" stroke="#111" stroke-width="0.2">200</text>
<text transform="matrix(0.8381,0.2705,-0.5161,0.6229,793.70,223.10)" text-anchor="middle" dy="0.36em" font-family="Liberation Sans" font-weight="bold" font-size="10.5" fill="#111" stroke="#111" stroke-width="0.2">250</text>
<text transform="matrix(0.8179,0.2476,-0.4748,0.5828,813.30,209.70)" text-anchor="middle" dy="0.36em" font-family="Liberation Sans" font-weight="bold" font-size="10.5" fill="#111" stroke="#111" stroke-width="0.2">300</text>
<text transform="matrix(-0.0832,-1.0668,1.2267,-0.3665,463.70,147.50)" text-anchor="middle" dy="0.36em" font-family="Liberation Sans" font-weight="bold" font-size="11" fill="#111" stroke="#111" stroke-width="0.2">Blue pixel intensity [a.u.]</text>
<text transform="matrix(0.8518,0.4206,-1.2901,0.6597,550.60,268.00)" text-anchor="middle" dy="0.36em" font-family="Liberation Sans" font-weight="bold" font-size="11" fill="#111" stroke="#111" stroke-width="0.2">NO<tspan font-size="7" dy="3">2</tspan><tspan dy="-3"> concentration [ppm]</tspan></text>
<text transform="matrix(0.6090,-0.4546,1.3332,0.7809,790.10,251.20)" text-anchor="middle" dy="0.36em" font-family="Liberation Sans" font-weight="bold" font-size="12" fill="#111" stroke="#111" stroke-width="0.2">UV power [μW/cm<tspan font-size="7" dy="-5">2</tspan><tspan dy="5">]</tspan></text>
<path d="M634.89,36.19 L637.57,37.10 L640.28,38.02 L648.50,40.79 L659.00,44.34 L669.75,47.98 L680.77,51.70 L692.06,55.52 L703.64,59.43 L715.52,63.45 L727.71,67.57 L740.22,71.79 L753.06,76.13 L766.25,80.59 L779.80,85.17 L793.73,89.88" fill="none" stroke="#e020e0" stroke-width="1.3"/>
<circle cx="634.89" cy="36.19" r="4.9" fill="url(#gm)"/>
<circle cx="637.57" cy="37.10" r="4.9" fill="url(#gm)"/>
<circle cx="640.28" cy="38.02" r="4.9" fill="url(#gm)"/>
<circle cx="648.50" cy="40.79" r="4.9" fill="url(#gm)"/>
<circle cx="659.00" cy="44.34" r="4.9" fill="url(#gm)"/>
<circle cx="669.75" cy="47.98" r="4.9" fill="url(#gm)"/>
<circle cx="680.77" cy="51.70" r="4.9" fill="url(#gm)"/>
<circle cx="692.06" cy="55.52" r="4.9" fill="url(#gm)"/>
<circle cx="703.64" cy="59.43" r="4.9" fill="url(#gm)"/>
<circle cx="715.52" cy="63.45" r="4.9" fill="url(#gm)"/>
<circle cx="727.71" cy="67.57" r="4.9" fill="url(#gm)"/>
<circle cx="740.22" cy="71.79" r="4.9" fill="url(#gm)"/>
<circle cx="753.06" cy="76.13" r="4.9" fill="url(#gm)"/>
<circle cx="766.25" cy="80.59" r="4.9" fill="url(#gm)"/>
<circle cx="779.80" cy="85.17" r="4.9" fill="url(#gm)"/>
<circle cx="793.73" cy="89.88" r="4.9" fill="url(#gm)"/>
<path d="M610.29,53.58 L613.00,54.56 L615.72,55.56 L624.00,58.58 L634.57,62.43 L645.42,66.39 L656.55,70.44 L667.96,74.61 L679.68,78.88 L691.71,83.27 L704.07,87.77 L716.77,92.40 L729.82,97.16 L743.23,102.05 L757.04,107.09 L771.24,112.26" fill="none" stroke="#10a050" stroke-width="1.3"/>
<circle cx="610.29" cy="53.58" r="4.9" fill="url(#gg)"/>
<circle cx="613.00" cy="54.56" r="4.9" fill="url(#gg)"/>
<circle cx="615.72" cy="55.56" r="4.9" fill="url(#gg)"/>
<circle cx="624.00" cy="58.58" r="4.9" fill="url(#gg)"/>
<circle cx="634.57" cy="62.43" r="4.9" fill="url(#gg)"/>
<circle cx="645.42" cy="66.39" r="4.9" fill="url(#gg)"/>
<circle cx="656.55" cy="70.44" r="4.9" fill="url(#gg)"/>
<circle cx="667.96" cy="74.61" r="4.9" fill="url(#gg)"/>
<circle cx="679.68" cy="78.88" r="4.9" fill="url(#gg)"/>
<circle cx="691.71" cy="83.27" r="4.9" fill="url(#gg)"/>
<circle cx="704.07" cy="87.77" r="4.9" fill="url(#gg)"/>
<circle cx="716.77" cy="92.40" r="4.9" fill="url(#gg)"/>
<circle cx="729.82" cy="97.16" r="4.9" fill="url(#gg)"/>
<circle cx="743.23" cy="102.05" r="4.9" fill="url(#gg)"/>
<circle cx="757.04" cy="107.09" r="4.9" fill="url(#gg)"/>
<circle cx="771.24" cy="112.26" r="4.9" fill="url(#gg)"/>
<path d="M584.16,82.82 L586.86,83.90 L589.59,84.98 L597.87,88.27 L608.47,92.48 L619.35,96.80 L630.52,101.24 L641.99,105.80 L653.78,110.48 L665.90,115.29 L678.36,120.24 L691.17,125.33 L704.36,130.57 L717.94,135.96 L731.92,141.52 L746.33,147.24" fill="none" stroke="#ff8010" stroke-width="1.3"/>
<circle cx="584.16" cy="82.82" r="4.9" fill="url(#go)"/>
<circle cx="586.86" cy="83.90" r="4.9" fill="url(#go)"/>
<circle cx="589.59" cy="84.98" r="4.9" fill="url(#go)"/>
<circle cx="597.87" cy="88.27" r="4.9" fill="url(#go)"/>
<circle cx="608.47" cy="92.48" r="4.9" fill="url(#go)"/>
<circle cx="619.35" cy="96.80" r="4.9" fill="url(#go)"/>
<circle cx="630.52" cy="101.24" r="4.9" fill="url(#go)"/>
<circle cx="641.99" cy="105.80" r="4.9" fill="url(#go)"/>
<circle cx="653.78" cy="110.48" r="4.9" fill="url(#go)"/>
<circle cx="665.90" cy="115.29" r="4.9" fill="url(#go)"/>
<circle cx="678.36" cy="120.24" r="4.9" fill="url(#go)"/>
<circle cx="691.17" cy="125.33" r="4.9" fill="url(#go)"/>
<circle cx="704.36" cy="130.57" r="4.9" fill="url(#go)"/>
<circle cx="717.94" cy="135.96" r="4.9" fill="url(#go)"/>
<circle cx="731.92" cy="141.52" r="4.9" fill="url(#go)"/>
<circle cx="746.33" cy="147.24" r="4.9" fill="url(#go)"/>
<path d="M556.47,119.97 L559.17,121.18 L561.88,122.41 L570.14,126.14 L580.71,130.91 L591.57,135.82 L602.73,140.86 L614.21,146.04 L626.01,151.37 L638.15,156.86 L650.65,162.51 L663.53,168.32 L676.79,174.31 L690.46,180.48 L704.55,186.85 L719.10,193.42" fill="none" stroke="#e83a3a" stroke-width="1.3"/>
<circle cx="556.47" cy="119.97" r="4.9" fill="url(#gr2)"/>
<circle cx="559.17" cy="121.18" r="4.9" fill="url(#gr2)"/>
<circle cx="561.88" cy="122.41" r="4.9" fill="url(#gr2)"/>
<circle cx="570.14" cy="126.14" r="4.9" fill="url(#gr2)"/>
<circle cx="580.71" cy="130.91" r="4.9" fill="url(#gr2)"/>
<circle cx="591.57" cy="135.82" r="4.9" fill="url(#gr2)"/>
<circle cx="602.73" cy="140.86" r="4.9" fill="url(#gr2)"/>
<circle cx="614.21" cy="146.04" r="4.9" fill="url(#gr2)"/>
<circle cx="626.01" cy="151.37" r="4.9" fill="url(#gr2)"/>
<circle cx="638.15" cy="156.86" r="4.9" fill="url(#gr2)"/>
<circle cx="650.65" cy="162.51" r="4.9" fill="url(#gr2)"/>
<circle cx="663.53" cy="168.32" r="4.9" fill="url(#gr2)"/>
<circle cx="676.79" cy="174.31" r="4.9" fill="url(#gr2)"/>
<circle cx="690.46" cy="180.48" r="4.9" fill="url(#gr2)"/>
<circle cx="704.55" cy="186.85" r="4.9" fill="url(#gr2)"/>
<circle cx="719.10" cy="193.42" r="4.9" fill="url(#gr2)"/>
<path d="M527.13,162.60 L529.80,164.00 L532.49,165.40 L540.69,169.68 L551.20,175.16 L562.00,180.80 L573.11,186.59 L584.54,192.56 L596.32,198.70 L608.44,205.03 L620.94,211.55 L633.82,218.27 L647.10,225.20 L660.81,232.36 L674.97,239.74 L689.59,247.37" fill="none" stroke="#5a5ae8" stroke-width="1.3"/>
<circle cx="527.13" cy="162.60" r="4.9" fill="url(#gb2)"/>
<circle cx="529.80" cy="164.00" r="4.9" fill="url(#gb2)"/>
<circle cx="532.49" cy="165.40" r="4.9" fill="url(#gb2)"/>
<circle cx="540.69" cy="169.68" r="4.9" fill="url(#gb2)"/>
<circle cx="551.20" cy="175.16" r="4.9" fill="url(#gb2)"/>
<circle cx="562.00" cy="180.80" r="4.9" fill="url(#gb2)"/>
<circle cx="573.11" cy="186.59" r="4.9" fill="url(#gb2)"/>
<circle cx="584.54" cy="192.56" r="4.9" fill="url(#gb2)"/>
<circle cx="596.32" cy="198.70" r="4.9" fill="url(#gb2)"/>
<circle cx="608.44" cy="205.03" r="4.9" fill="url(#gb2)"/>
<circle cx="620.94" cy="211.55" r="4.9" fill="url(#gb2)"/>
<circle cx="633.82" cy="218.27" r="4.9" fill="url(#gb2)"/>
<circle cx="647.10" cy="225.20" r="4.9" fill="url(#gb2)"/>
<circle cx="660.81" cy="232.36" r="4.9" fill="url(#gb2)"/>
<circle cx="674.97" cy="239.74" r="4.9" fill="url(#gb2)"/>
<circle cx="689.59" cy="247.37" r="4.9" fill="url(#gb2)"/>
<rect x="789" y="99" width="103" height="92" fill="#fff"/>
<line x1="795" y1="114.40" x2="822.4" y2="114.40" stroke="#5a5ae8" stroke-width="1.1"/>
<circle cx="808.70" cy="114.40" r="4.8" fill="url(#gb2)"/>
<text x="825.8" y="118.30" font-family="Liberation Sans" font-weight="bold" font-size="10.5" fill="#111" textLength="57.7" lengthAdjust="spacingAndGlyphs">100 μW/cm</text>
<text x="883.90" y="112.90" font-family="Liberation Sans" font-weight="bold" font-size="6.5" fill="#111">2</text>
<line x1="795" y1="131.60" x2="822.4" y2="131.60" stroke="#e83a3a" stroke-width="1.1"/>
<circle cx="808.70" cy="131.60" r="4.8" fill="url(#gr2)"/>
<text x="825.8" y="135.50" font-family="Liberation Sans" font-weight="bold" font-size="10.5" fill="#111" textLength="57.7" lengthAdjust="spacingAndGlyphs">150 μW/cm</text>
<text x="883.90" y="130.10" font-family="Liberation Sans" font-weight="bold" font-size="6.5" fill="#111">2</text>
<line x1="795" y1="148.80" x2="822.4" y2="148.80" stroke="#ff8010" stroke-width="1.1"/>
<circle cx="808.70" cy="148.80" r="4.8" fill="url(#go)"/>
<text x="825.8" y="152.70" font-family="Liberation Sans" font-weight="bold" font-size="10.5" fill="#111" textLength="57.7" lengthAdjust="spacingAndGlyphs">200 μW/cm</text>
<text x="883.90" y="147.30" font-family="Liberation Sans" font-weight="bold" font-size="6.5" fill="#111">2</text>
<line x1="795" y1="166.00" x2="822.4" y2="166.00" stroke="#10a050" stroke-width="1.1"/>
<circle cx="808.70" cy="166.00" r="4.8" fill="url(#gg)"/>
<text x="825.8" y="169.90" font-family="Liberation Sans" font-weight="bold" font-size="10.5" fill="#111" textLength="57.7" lengthAdjust="spacingAndGlyphs">250 μW/cm</text>
<text x="883.90" y="164.50" font-family="Liberation Sans" font-weight="bold" font-size="6.5" fill="#111">2</text>
<line x1="795" y1="183.20" x2="822.4" y2="183.20" stroke="#e020e0" stroke-width="1.1"/>
<circle cx="808.70" cy="183.20" r="4.8" fill="url(#gm)"/>
<text x="825.8" y="187.10" font-family="Liberation Sans" font-weight="bold" font-size="10.5" fill="#111" textLength="57.7" lengthAdjust="spacingAndGlyphs">300 μW/cm</text>
<text x="883.90" y="181.70" font-family="Liberation Sans" font-weight="bold" font-size="6.5" fill="#111">2</text>
</svg>
<svg class="ab" style="left:0;top:0" width="926" height="786" viewBox="0 0 926 786">
<defs>
<radialGradient id="gb" cx="0.5" cy="0.5" r="0.55" fx="0.33" fy="0.3"><stop offset="0" stop-color="#ffffff"/><stop offset="0.18" stop-color="#c8c8ff"/><stop offset="0.5" stop-color="#5a5af5"/><stop offset="1" stop-color="#3a3ad0"/></radialGradient>
<radialGradient id="gr" cx="0.5" cy="0.5" r="0.55" fx="0.33" fy="0.3"><stop offset="0" stop-color="#ffffff"/><stop offset="0.18" stop-color="#ffc8c8"/><stop offset="0.5" stop-color="#f03a3a"/><stop offset="1" stop-color="#c82020"/></radialGradient>
</defs>
<line x1="89.52" y1="631.30" x2="89.52" y2="634.30" stroke="#000" stroke-width="1.3"/>
<line x1="89.52" y1="418.30" x2="89.52" y2="421.30" stroke="#000" stroke-width="1.3"/>
<line x1="119.80" y1="631.30" x2="119.80" y2="636.30" stroke="#000" stroke-width="1.3"/>
<line x1="119.80" y1="418.30" x2="119.80" y2="423.30" stroke="#000" stroke-width="1.3"/>
<line x1="150.07" y1="631.30" x2="150.07" y2="634.30" stroke="#000" stroke-width="1.3"/>
<line x1="150.07" y1="418.30" x2="150.07" y2="421.30" stroke="#000" stroke-width="1.3"/>
<line x1="180.35" y1="631.30" x2="180.35" y2="636.30" stroke="#000" stroke-width="1.3"/>
<line x1="180.35" y1="418.30" x2="180.35" y2="423.30" stroke="#000" stroke-width="1.3"/>
<line x1="210.62" y1="631.30" x2="210.62" y2="634.30" stroke="#000" stroke-width="1.3"/>
<line x1="210.62" y1="418.30" x2="210.62" y2="421.30" stroke="#000" stroke-width="1.3"/>
<line x1="240.90" y1="631.30" x2="240.90" y2="636.30" stroke="#000" stroke-width="1.3"/>
<line x1="240.90" y1="418.30" x2="240.90" y2="423.30" stroke="#000" stroke-width="1.3"/>
<line x1="271.18" y1="631.30" x2="271.18" y2="634.30" stroke="#000" stroke-width="1.3"/>
<line x1="271.18" y1="418.30" x2="271.18" y2="421.30" stroke="#000" stroke-width="1.3"/>
<line x1="301.45" y1="631.30" x2="301.45" y2="636.30" stroke="#000" stroke-width="1.3"/>
<line x1="301.45" y1="418.30" x2="301.45" y2="423.30" stroke="#000" stroke-width="1.3"/>
<line x1="331.73" y1="631.30" x2="331.73" y2="634.30" stroke="#000" stroke-width="1.3"/>
<line x1="331.73" y1="418.30" x2="331.73" y2="421.30" stroke="#000" stroke-width="1.3"/>
<line x1="362.00" y1="631.30" x2="362.00" y2="636.30" stroke="#000" stroke-width="1.3"/>
<line x1="362.00" y1="418.30" x2="362.00" y2="423.30" stroke="#000" stroke-width="1.3"/>
<line x1="392.28" y1="631.30" x2="392.28" y2="634.30" stroke="#000" stroke-width="1.3"/>
<line x1="392.28" y1="418.30" x2="392.28" y2="421.30" stroke="#000" stroke-width="1.3"/>
<line x1="84.52" y1="631.30" x2="89.52" y2="631.30" stroke="#6868e6" stroke-width="1.3"/>
<line x1="392.28" y1="631.30" x2="397.28" y2="631.30" stroke="#e8404a" stroke-width="1.3"/>
<line x1="86.52" y1="610.00" x2="89.52" y2="610.00" stroke="#6868e6" stroke-width="1.3"/>
<line x1="392.28" y1="610.00" x2="395.28" y2="610.00" stroke="#e8404a" stroke-width="1.3"/>
<line x1="84.52" y1="588.70" x2="89.52" y2="588.70" stroke="#6868e6" stroke-width="1.3"/>
<line x1="392.28" y1="588.70" x2="397.28" y2="588.70" stroke="#e8404a" stroke-width="1.3"/>
<line x1="86.52" y1="567.40" x2="89.52" y2="567.40" stroke="#6868e6" stroke-width="1.3"/>
<line x1="392.28" y1="567.40" x2="395.28" y2="567.40" stroke="#e8404a" stroke-width="1.3"/>
<line x1="84.52" y1="546.10" x2="89.52" y2="546.10" stroke="#6868e6" stroke-width="1.3"/>
<line x1="392.28" y1="546.10" x2="397.28" y2="546.10" stroke="#e8404a" stroke-width="1.3"/>
<line x1="86.52" y1="524.80" x2="89.52" y2="524.80" stroke="#6868e6" stroke-width="1.3"/>
<line x1="392.28" y1="524.80" x2="395.28" y2="524.80" stroke="#e8404a" stroke-width="1.3"/>
<line x1="84.52" y1="503.50" x2="89.52" y2="503.50" stroke="#6868e6" stroke-width="1.3"/>
<line x1="392.28" y1="503.50" x2="397.28" y2="503.50" stroke="#e8404a" stroke-width="1.3"/>
<line x1="86.52" y1="482.20" x2="89.52" y2="482.20" stroke="#6868e6" stroke-width="1.3"/>
<line x1="392.28" y1="482.20" x2="395.28" y2="482.20" stroke="#e8404a" stroke-width="1.3"/>
<line x1="84.52" y1="460.90" x2="89.52" y2="460.90" stroke="#6868e6" stroke-width="1.3"/>
<line x1="392.28" y1="460.90" x2="397.28" y2="460.90" stroke="#e8404a" stroke-width="1.3"/>
<line x1="86.52" y1="439.60" x2="89.52" y2="439.60" stroke="#6868e6" stroke-width="1.3"/>
<line x1="392.28" y1="439.60" x2="395.28" y2="439.60" stroke="#e8404a" stroke-width="1.3"/>
<line x1="84.52" y1="418.30" x2="89.52" y2="418.30" stroke="#6868e6" stroke-width="1.3"/>
<line x1="392.28" y1="418.30" x2="397.28" y2="418.30" stroke="#e8404a" stroke-width="1.3"/>
<line x1="89.52" y1="418.30" x2="89.52" y2="631.30" stroke="#6868e6" stroke-width="1.6"/>
<line x1="392.28" y1="418.30" x2="392.28" y2="631.30" stroke="#e8404a" stroke-width="1.6"/>
<line x1="88.52" y1="418.30" x2="393.28" y2="418.30" stroke="#000" stroke-width="2"/>
<line x1="88.52" y1="631.30" x2="393.28" y2="631.30" stroke="#000" stroke-width="2"/>
<text x="82.5" y="636.10" text-anchor="end" font-family="Liberation Sans" font-weight="bold" font-size="13.3" fill="#6868e6" stroke="#6868e6" stroke-width="0.35" textLength="25.5" lengthAdjust="spacingAndGlyphs">0.00</text>
<text x="399" y="636.10" text-anchor="start" font-family="Liberation Sans" font-weight="bold" font-size="13.3" fill="#e8404a" stroke="#e8404a" stroke-width="0.35" textLength="25.5" lengthAdjust="spacingAndGlyphs">0.00</text>
<text x="82.5" y="593.50" text-anchor="end" font-family="Liberation Sans" font-weight="bold" font-size="13.3" fill="#6868e6" stroke="#6868e6" stroke-width="0.35" textLength="25.5" lengthAdjust="spacingAndGlyphs">0.05</text>
<text x="399" y="593.50" text-anchor="start" font-family="Liberation Sans" font-weight="bold" font-size="13.3" fill="#e8404a" stroke="#e8404a" stroke-width="0.35" textLength="25.5" lengthAdjust="spacingAndGlyphs">0.05</text>
<text x="82.5" y="550.90" text-anchor="end" font-family="Liberation Sans" font-weight="bold" font-size="13.3" fill="#6868e6" stroke="#6868e6" stroke-width="0.35" textLength="25.5" lengthAdjust="spacingAndGlyphs">0.10</text>
<text x="399" y="550.90" text-anchor="start" font-family="Liberation Sans" font-weight="bold" font-size="13.3" fill="#e8404a" stroke="#e8404a" stroke-width="0.35" textLength="25.5" lengthAdjust="spacingAndGlyphs">0.10</text>
<text x="82.5" y="508.30" text-anchor="end" font-family="Liberation Sans" font-weight="bold" font-size="13.3" fill="#6868e6" stroke="#6868e6" stroke-width="0.35" textLength="25.5" lengthAdjust="spacingAndGlyphs">0.15</text>
<text x="399" y="508.30" text-anchor="start" font-family="Liberation Sans" font-weight="bold" font-size="13.3" fill="#e8404a" stroke="#e8404a" stroke-width="0.35" textLength="25.5" lengthAdjust="spacingAndGlyphs">0.15</text>
<text x="82.5" y="465.70" text-anchor="end" font-family="Liberation Sans" font-weight="bold" font-size="13.3" fill="#6868e6" stroke="#6868e6" stroke-width="0.35" textLength="25.5" lengthAdjust="spacingAndGlyphs">0.20</text>
<text x="399" y="465.70" text-anchor="start" font-family="Liberation Sans" font-weight="bold" font-size="13.3" fill="#e8404a" stroke="#e8404a" stroke-width="0.35" textLength="25.5" lengthAdjust="spacingAndGlyphs">0.20</text>
<text x="82.5" y="423.10" text-anchor="end" font-family="Liberation Sans" font-weight="bold" font-size="13.3" fill="#6868e6" stroke="#6868e6" stroke-width="0.35" textLength="25.5" lengthAdjust="spacingAndGlyphs">0.25</text>
<text x="399" y="423.10" text-anchor="start" font-family="Liberation Sans" font-weight="bold" font-size="13.3" fill="#e8404a" stroke="#e8404a" stroke-width="0.35" textLength="25.5" lengthAdjust="spacingAndGlyphs">0.25</text>
<text x="119.80" y="649.2" text-anchor="middle" font-family="Liberation Sans" font-weight="bold" font-size="13" fill="#111" stroke="#111" stroke-width="0.3">100</text>
<text x="180.35" y="649.2" text-anchor="middle" font-family="Liberation Sans" font-weight="bold" font-size="13" fill="#111" stroke="#111" stroke-width="0.3">150</text>
<text x="240.90" y="649.2" text-anchor="middle" font-family="Liberation Sans" font-weight="bold" font-size="13" fill="#111" stroke="#111" stroke-width="0.3">200</text>
<text x="301.45" y="649.2" text-anchor="middle" font-family="Liberation Sans" font-weight="bold" font-size="13" fill="#111" stroke="#111" stroke-width="0.3">250</text>
<text x="362.00" y="649.2" text-anchor="middle" font-family="Liberation Sans" font-weight="bold" font-size="13" fill="#111" stroke="#111" stroke-width="0.3">300</text>
<text transform="translate(43.7,520.6) rotate(-90)" text-anchor="middle" font-family="Liberation Sans" font-weight="bold" font-size="14.8" fill="#6868e6" stroke="#6868e6" stroke-width="0.3" textLength="191" lengthAdjust="spacingAndGlyphs">UV sensitivitiy @ CIS [a.u.]</text>
<text transform="translate(445.2,524.4) rotate(-90)" text-anchor="middle" font-family="Liberation Sans" font-weight="bold" font-size="14.8" fill="#e8404a" stroke="#e8404a" stroke-width="0.3" textLength="209" lengthAdjust="spacingAndGlyphs">UV sensitivity @ QD-CIS [a.u.]</text>
<text x="173.5" y="668.8" font-family="Liberation Sans" font-weight="bold" font-size="14" fill="#111">UV intensity <tspan font-size="10.5">[μ</tspan>W/cm<tspan font-size="9" dy="-5">2</tspan><tspan font-size="10.5" dy="5">]</tspan></text>
<clipPath id="cp2a"><rect x="89.52" y="418.30" width="302.75" height="213.00"/></clipPath><g clip-path="url(#cp2a)">
<path d="M119.80,630.06 L121.84,629.96 L123.87,629.85 L125.91,629.75 L127.94,629.64 L129.98,629.54 L132.01,629.43 L134.05,629.32 L136.08,629.20 L138.12,629.09 L140.15,628.97 L142.19,628.85 L144.22,628.73 L146.26,628.61 L148.29,628.49 L150.33,628.37 L152.36,628.24 L154.40,628.11 L156.44,627.98 L158.47,627.85 L160.51,627.72 L162.54,627.59 L164.58,627.46 L166.61,627.32 L168.65,627.18 L170.68,627.05 L172.72,626.91 L174.75,626.77 L176.79,626.63 L178.82,626.48 L180.86,626.34 L182.89,626.19 L184.93,626.05 L186.96,625.90 L189.00,625.76 L191.04,625.61 L193.07,625.46 L195.11,625.31 L197.14,625.16 L199.18,625.00 L201.21,624.85 L203.25,624.69 L205.28,624.53 L207.32,624.37 L209.35,624.21 L211.39,624.04 L213.42,623.87 L215.46,623.70 L217.49,623.52 L219.53,623.34 L221.56,623.16 L223.60,622.98 L225.64,622.79 L227.67,622.60 L229.71,622.40 L231.74,622.20 L233.78,622.00 L235.81,621.79 L237.85,621.57 L239.88,621.36 L241.92,621.13 L243.95,620.90 L245.99,620.65 L248.02,620.38 L250.06,620.11 L252.09,619.82 L254.13,619.52 L256.16,619.21 L258.20,618.90 L260.24,618.58 L262.27,618.25 L264.31,617.91 L266.34,617.58 L268.38,617.23 L270.41,616.89 L272.45,616.54 L274.48,616.19 L276.52,615.85 L278.55,615.50 L280.59,615.15 L282.62,614.81 L284.66,614.47 L286.69,614.14 L288.73,613.81 L290.76,613.49 L292.80,613.18 L294.84,612.87 L296.87,612.58 L298.91,612.29 L300.94,612.02 L302.98,611.75 L305.01,611.49 L307.05,611.23 L309.08,610.97 L311.12,610.71 L313.15,610.46 L315.19,610.21 L317.22,609.96 L319.26,609.71 L321.29,609.46 L323.33,609.22 L325.36,608.98 L327.40,608.74 L329.44,608.51 L331.47,608.27 L333.51,608.04 L335.54,607.81 L337.58,607.59 L339.61,607.36 L341.65,607.14 L343.68,606.93 L345.72,606.71 L347.75,606.50 L349.79,606.29 L351.82,606.09 L353.86,605.88 L355.89,605.68 L357.93,605.49 L359.96,605.29 L362.00,605.10" fill="none" stroke="#5a5ae8" stroke-width="1.3"/>
<path d="M119.80,484.07 L121.84,483.86 L123.87,483.66 L125.91,483.46 L127.94,483.26 L129.98,483.05 L132.01,482.85 L134.05,482.65 L136.08,482.45 L138.12,482.24 L140.15,482.04 L142.19,481.84 L144.22,481.63 L146.26,481.43 L148.29,481.23 L150.33,481.02 L152.36,480.82 L154.40,480.61 L156.44,480.41 L158.47,480.21 L160.51,480.00 L162.54,479.80 L164.58,479.59 L166.61,479.39 L168.65,479.18 L170.68,478.98 L172.72,478.77 L174.75,478.57 L176.79,478.36 L178.82,478.15 L180.86,477.95 L182.89,477.75 L184.93,477.55 L186.96,477.36 L189.00,477.18 L191.04,476.99 L193.07,476.82 L195.11,476.64 L197.14,476.46 L199.18,476.29 L201.21,476.12 L203.25,475.94 L205.28,475.77 L207.32,475.59 L209.35,475.41 L211.39,475.23 L213.42,475.04 L215.46,474.85 L217.49,474.66 L219.53,474.46 L221.56,474.25 L223.60,474.03 L225.64,473.81 L227.67,473.58 L229.71,473.34 L231.74,473.09 L233.78,472.82 L235.81,472.55 L237.85,472.27 L239.88,471.97 L241.92,471.65 L243.95,471.26 L245.99,470.81 L248.02,470.29 L250.06,469.72 L252.09,469.09 L254.13,468.42 L256.16,467.71 L258.20,466.96 L260.24,466.18 L262.27,465.38 L264.31,464.57 L266.34,463.74 L268.38,462.91 L270.41,462.07 L272.45,461.24 L274.48,460.43 L276.52,459.63 L278.55,458.85 L280.59,458.10 L282.62,457.38 L284.66,456.71 L286.69,456.08 L288.73,455.50 L290.76,454.98 L292.80,454.52 L294.84,454.12 L296.87,453.81 L298.91,453.57 L300.94,453.42 L302.98,453.33 L305.01,453.25 L307.05,453.17 L309.08,453.09 L311.12,453.02 L313.15,452.95 L315.19,452.88 L317.22,452.81 L319.26,452.75 L321.29,452.68 L323.33,452.62 L325.36,452.57 L327.40,452.51 L329.44,452.46 L331.47,452.41 L333.51,452.37 L335.54,452.32 L337.58,452.28 L339.61,452.25 L341.65,452.21 L343.68,452.18 L345.72,452.15 L347.75,452.13 L349.79,452.11 L351.82,452.09 L353.86,452.07 L355.89,452.06 L357.93,452.05 L359.96,452.05 L362.00,452.05" fill="none" stroke="#e83a3a" stroke-width="1.3"/>
<circle cx="119.80" cy="630.06" r="6.8" fill="url(#gb)"/>
<circle cx="180.35" cy="626.38" r="6.8" fill="url(#gb)"/>
<circle cx="240.90" cy="621.25" r="6.8" fill="url(#gb)"/>
<circle cx="301.45" cy="611.95" r="6.8" fill="url(#gb)"/>
<circle cx="362.00" cy="605.10" r="6.8" fill="url(#gb)"/>
<circle cx="119.80" cy="484.07" r="6.8" fill="url(#gr)"/>
<circle cx="180.35" cy="478.00" r="6.8" fill="url(#gr)"/>
<circle cx="240.90" cy="471.81" r="6.8" fill="url(#gr)"/>
<circle cx="301.45" cy="453.39" r="6.8" fill="url(#gr)"/>
<circle cx="362.00" cy="452.05" r="6.8" fill="url(#gr)"/>
</g>
<line x1="88.52" y1="631.30" x2="393.28" y2="631.30" stroke="#000" stroke-width="2"/>
<line x1="102.2" y1="438.8" x2="131.5" y2="438.8" stroke="#5a5ae8" stroke-width="1.3"/>
<line x1="102.2" y1="454.4" x2="131.5" y2="454.4" stroke="#e83a3a" stroke-width="1.3"/>
<circle cx="116.8" cy="438.8" r="6.9" fill="url(#gb)"/>
<circle cx="116.8" cy="454.4" r="6.9" fill="url(#gr)"/>
<text x="134.5" y="442.8" font-family="Liberation Sans" font-weight="bold" font-size="11.5" fill="#111">CIS</text>
<text x="134.5" y="458.4" font-family="Liberation Sans" font-weight="bold" font-size="11.5" fill="#111" textLength="40.5" lengthAdjust="spacingAndGlyphs">QD-CIS</text>
<text x="125.6" y="520.4" font-family="Liberation Serif" font-weight="bold" font-style="italic" fill="#111" stroke="#111" stroke-width="0.3" font-size="17.5" textLength="117" lengthAdjust="spacingAndGlyphs">UV sensitivity</text>
<text x="248.6" y="520.4" font-family="Liberation Serif" fill="#111" font-size="17.5" textLength="5" lengthAdjust="spacingAndGlyphs">[</text>
<text x="254.6" y="520.4" font-family="Liberation Serif" font-weight="bold" font-style="italic" fill="#111" stroke="#111" stroke-width="0.3" font-size="17.5" textLength="73" lengthAdjust="spacingAndGlyphs">P.I./ppm</text>
<text x="328.6" y="520.4" font-family="Liberation Serif" fill="#111" font-size="17.5" textLength="5" lengthAdjust="spacingAndGlyphs">]</text>
<text x="143.2" y="554" font-family="Liberation Serif" fill="#111" font-size="16" textLength="9.3" lengthAdjust="spacingAndGlyphs">Δ</text>
<text x="157.2" y="554" font-family="Liberation Serif" font-weight="bold" font-style="italic" fill="#111" stroke="#111" stroke-width="0.3" font-size="17.5" textLength="123.3" lengthAdjust="spacingAndGlyphs">Pixel Intensity</text>
<text x="283.3" y="558.3" font-family="Liberation Serif" font-weight="bold" fill="#111" stroke="#111" stroke-width="0.3" font-size="11" textLength="35.8" lengthAdjust="spacingAndGlyphs">10000</text>
<text x="323.4" y="558.3" font-family="Liberation Serif" font-weight="bold" font-style="italic" fill="#111" stroke="#111" stroke-width="0.3" font-size="11" textLength="26.6" lengthAdjust="spacingAndGlyphs">ppm</text>
<rect x="143" y="562.7" width="208" height="1.5" fill="#222"/>
<rect x="125.6" y="565.2" width="11.2" height="1.6" fill="#222"/>
<rect x="125.6" y="570.1" width="11.2" height="1.6" fill="#222"/>
<text x="201.6" y="579.3" font-family="Liberation Serif" font-weight="bold" fill="#111" stroke="#111" stroke-width="0.3" font-size="17.5" textLength="47.8" lengthAdjust="spacingAndGlyphs">10000</text>
<text x="256" y="579.3" font-family="Liberation Serif" font-weight="bold" font-style="italic" fill="#111" stroke="#111" stroke-width="0.3" font-size="17.5" textLength="35.8" lengthAdjust="spacingAndGlyphs">ppm</text>
</svg>

</body></html>
